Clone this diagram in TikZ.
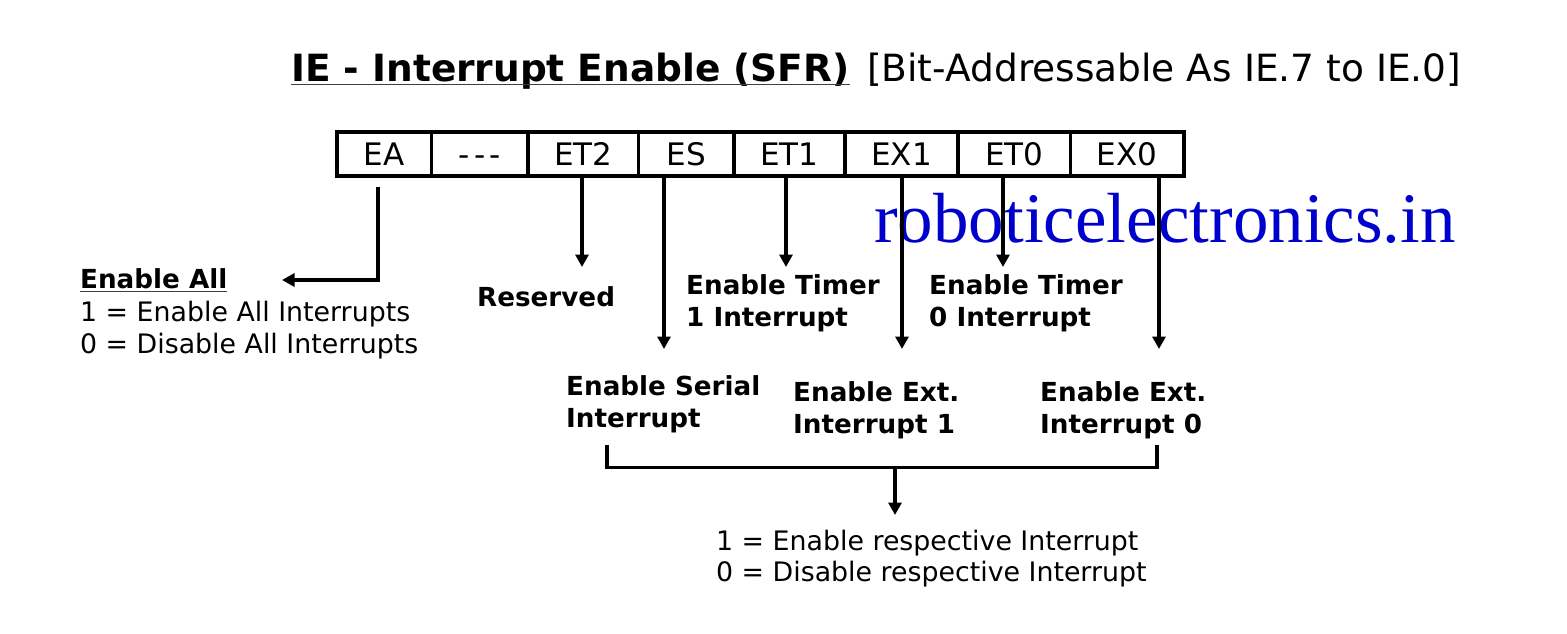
\documentclass[tikz,border=0pt]{standalone}
\usepackage{fontspec}
\setmainfont{DejaVu Sans}
\newfontfamily\wmfont{Liberation Serif}
\usetikzlibrary{arrows.meta}
\definecolor{wmblue}{RGB}{0,0,204}
\begin{document}
\begin{tikzpicture}[x=1pt,y=-1pt,
  cell/.style={draw=black, line width=3.2pt, inner sep=0pt, minimum height=44pt,
    text height=23pt, text depth=0pt, font=\fontsize{31}{37}\selectfont},
  lbl/.style={anchor=base west, inner sep=0pt,
    font=\fontsize{26.2}{32}\selectfont\bfseries},
  txt/.style={anchor=base west, inner sep=0pt,
    font=\fontsize{26.8}{32}\selectfont},
  conn/.style={line width=3.3pt},
  arr/.style={line width=3.3pt, -{Triangle[width=13pt,length=12.5pt]}},
  ul/.style={line width=1.5pt, draw=black!75}]
\useasboundingbox (0,0) rectangle (1567,633);
\fill[white] (0,0) rectangle (1567,633);

% watermark (behind everything)
\node[anchor=base west, inner sep=0pt, text=wmblue,
  font=\fontsize{71}{80}\selectfont\wmfont] (wm) at (874,242) {roboticelectronics.in};

% title
\node[anchor=base west, inner sep=0pt, font=\fontsize{37.5}{45}\selectfont\bfseries]
  (titleb) at (291,81) {IE - Interrupt Enable (SFR)};
\node[anchor=base west, inner sep=0pt, font=\fontsize{37.5}{45}\selectfont]
  (titler) at (867,81) {[Bit-Addressable As IE.7 to IE.0]};
\draw[ul] ([yshift=-3.5pt]titleb.base west) -- ([yshift=-3.5pt]titleb.base east);

% register cells
\node[cell, minimum width=94.5pt]  (ea)  at (384.25,154) {EA};
\node[cell, minimum width=96.5pt]  (na)  at (479.75,154) {-\kern4pt-\kern4pt-};
\node[cell, minimum width=110.5pt] (et2) at (583.25,154) {ET2};
\node[cell, minimum width=95.5pt]  (es)  at (686.25,154) {ES};
\node[cell, minimum width=111pt]   (et1) at (789.5,154) {ET1};
\node[cell, minimum width=113pt]   (ex1) at (901.5,154) {EX1};
\node[cell, minimum width=112.5pt] (et0) at (1014.25,154) {ET0};
\node[cell, minimum width=113.5pt] (ex0) at (1127.25,154) {EX0};

% labels
\node[lbl] (enall) at (80,288) {Enable All};
\draw[ul] ([yshift=-3.5pt]enall.base west) -- ([yshift=-3.5pt]enall.base east);
\node[txt] (enall1) at (80,321.5) {1 = Enable All Interrupts};
\node[txt] (enall0) at (80,353.5) {0 = Disable All Interrupts};
\node[lbl] (res)   at (477,306.5) {Reserved};
\node[lbl] (tim1a) at (686,294) {Enable Timer};
\node[lbl] (tim1b) at (686,326) {1 Interrupt};
\node[lbl] (tim0a) at (929,294) {Enable Timer};
\node[lbl] (tim0b) at (929,326) {0 Interrupt};
\node[lbl] (sera)  at (566,395) {Enable Serial};
\node[lbl] (serb)  at (566,427) {Interrupt};
\node[lbl] (ext1a) at (793,401) {Enable Ext.};
\node[lbl] (ext1b) at (793,433) {Interrupt 1};
\node[lbl] (ext0a) at (1040,401) {Enable Ext.};
\node[lbl] (ext0b) at (1040,433) {Interrupt 0};
\node[txt] (resp1) at (716,550.5) {1 = Enable respective Interrupt};
\node[txt] (resp0) at (716,581.5) {0 = Disable respective Interrupt};

% connector end points
\coordinate (ea-top) at (378,187);
\coordinate (t-ea)  at (282,280);
\coordinate (t-et2) at (582,267);
\coordinate (t-es)  at (664,349);
\coordinate (t-et1) at (786,267);
\coordinate (t-ex1) at (902,349);
\coordinate (t-et0) at (1003,267);
\coordinate (t-ex0) at (1159,349);
\coordinate (bl) at (607,445);
\coordinate (br) at (1157,445);
\coordinate (bm) at (895,467.5);
\coordinate (t-resp) at (895,515);

% connectors
\draw[arr] (ea-top) -- (ea-top |- t-ea) -- (t-ea);
\draw[arr] (t-et2 |- et2.south) -- (t-et2);
\draw[arr] (t-es |- es.south) -- (t-es);
\draw[arr] (t-et1 |- et1.south) -- (t-et1);
\draw[arr] (t-ex1 |- ex1.south) -- (t-ex1);
\draw[arr] (t-et0 |- et0.south) -- (t-et0);
\draw[arr] (t-ex0 |- ex0.south) -- (t-ex0);
\draw[conn] (bl) -- (bl |- bm) -- (br |- bm) -- (br);
\draw[arr] (bm) -- (t-resp);
\end{tikzpicture}
\end{document}
